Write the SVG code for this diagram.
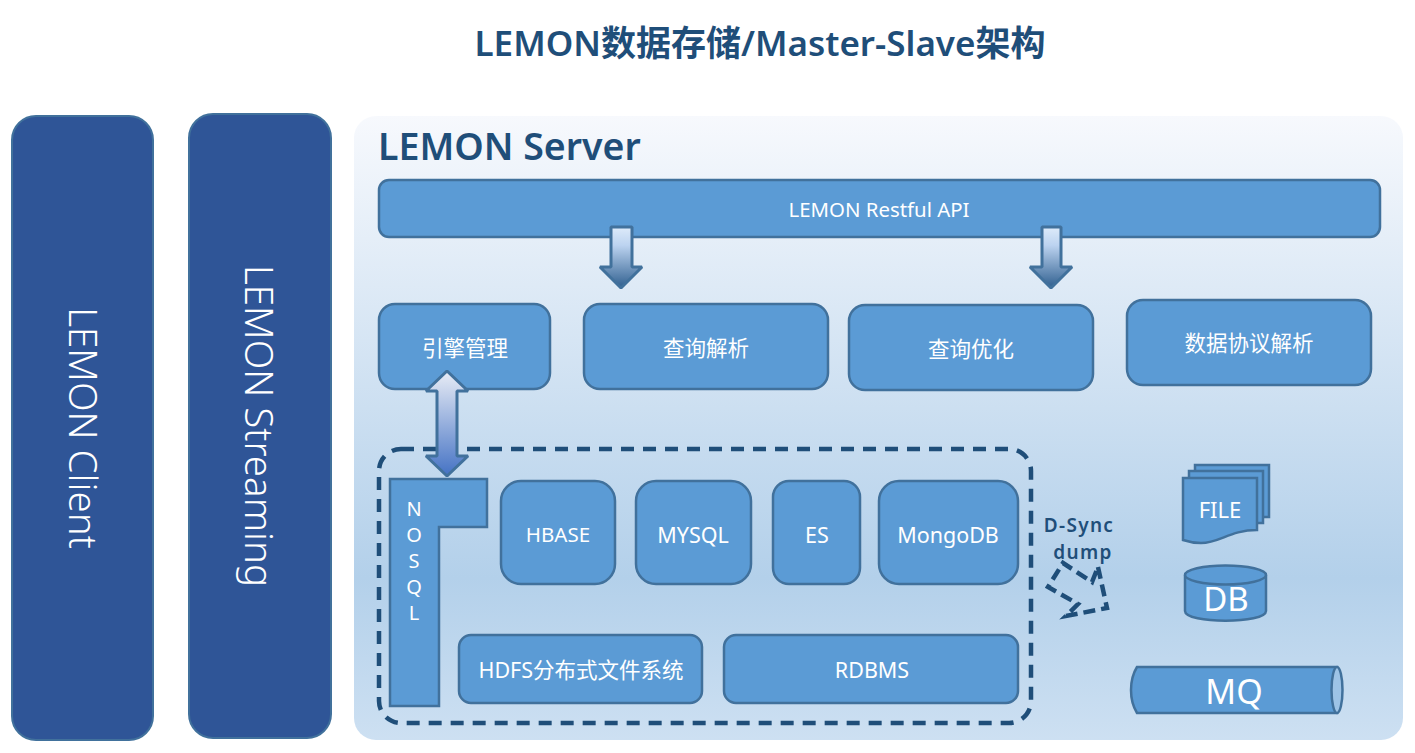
<svg xmlns="http://www.w3.org/2000/svg" width="1415" height="753" viewBox="0 0 1415 753">
<defs>
<linearGradient id="bg" x1="0" y1="0" x2="0" y2="1"><stop offset="0" stop-color="#f7f9fd"/><stop offset="0.74" stop-color="#b3d0ea"/><stop offset="1" stop-color="#cde0f2"/></linearGradient>
<linearGradient id="down" x1="0" y1="0" x2="0" y2="1"><stop offset="0" stop-color="#deebfa"/><stop offset="0.3" stop-color="#bcd3f0"/><stop offset="1" stop-color="#2f5f8f"/></linearGradient>
<linearGradient id="both" x1="0" y1="0" x2="0" y2="1"><stop offset="0" stop-color="#e9edf6"/><stop offset="1" stop-color="#4472c4"/></linearGradient>
</defs>
<style>
text{font-family:"Noto Sans","Noto Sans CJK SC",sans-serif;fill:#fff;text-anchor:middle;dominant-baseline:central}
.n{fill:#5b9bd5;stroke:#41719c;stroke-width:2.500}
.d{fill:#2f5597;stroke:#41719c;stroke-width:2}
.t{font-size:21.500px}
.v{font-size:38.500px;font-weight:300}
.h{fill:#1f4e79;font-weight:600}
.a{stroke:#41719c;stroke-width:3;stroke-linejoin:bevel}
</style>
<text class="h" x="760" y="42" style="font-size:35px">LEMON数据存储/Master-Slave架构</text>
<g id="client"><rect class="d" x="12" y="116" width="141" height="624" rx="24"/><text class="v" transform="translate(84 428) rotate(90)">LEMON Client</text></g>
<g id="streaming"><rect class="d" x="189" y="114" width="142" height="624" rx="24"/><text class="v" transform="translate(260 426) rotate(90)">LEMON Streaming</text></g>
<g id="server"><rect x="354" y="116" width="1049" height="624" rx="22" fill="url(#bg)"/><text class="h" x="378" y="145" style="text-anchor:start;font-size:37.500px">LEMON Server</text></g>
<g id="api"><rect class="n" x="379" y="180" width="1001" height="57" rx="10"/><text x="879" y="209" style="font-size:20.400px">LEMON Restful API</text></g>
<g id="engine"><rect class="n" x="379" y="304" width="171" height="85" rx="16"/><text class="t" x="465" y="347">引擎管理</text></g>
<g id="parse"><rect class="n" x="584" y="304" width="244" height="85" rx="16"/><text class="t" x="706" y="347">查询解析</text></g>
<g id="optimize"><rect class="n" x="849" y="305" width="244" height="85" rx="16"/><text class="t" x="971" y="348">查询优化</text></g>
<g id="protocol"><rect class="n" x="1127" y="300" width="244" height="85" rx="16"/><text class="t" x="1249" y="342">数据协议解析</text></g>
<g id="nosql-group"><rect x="379" y="449" width="652" height="274" rx="22" fill="none" stroke="#1f4e79" stroke-width="4.500" stroke-dasharray="13 9"/></g>
<g id="nosql"><path class="n" d="M390 479H487V527H439V706H390Z"/><text x="414" y="508" style="font-size:20px">N</text><text x="414" y="534" style="font-size:20px">O</text><text x="414" y="560" style="font-size:20px">S</text><text x="414" y="586" style="font-size:20px">Q</text><text x="414" y="612" style="font-size:20px">L</text></g>
<g id="hbase"><rect class="n" x="501" y="481" width="114" height="103" rx="20"/><text class="t" x="558" y="534" style="font-size:20.500px">HBASE</text></g>
<g id="mysql"><rect class="n" x="636" y="481" width="115" height="103" rx="20"/><text class="t" x="693" y="534">MYSQL</text></g>
<g id="es"><rect class="n" x="773" y="481" width="87" height="103" rx="16"/><text class="t" x="817" y="534">ES</text></g>
<g id="mongodb"><rect class="n" x="879" y="481" width="139" height="103" rx="20"/><text class="t" x="948" y="534">MongoDB</text></g>
<g id="hdfs"><rect class="n" x="459" y="635" width="243" height="68" rx="12"/><text class="t" x="581" y="669">HDFS分布式文件系统</text></g>
<g id="rdbms"><rect class="n" x="724" y="635" width="294" height="68" rx="12"/><text class="t" x="872" y="669">RDBMS</text></g>
<g id="file"><rect class="n" x="1195" y="465" width="74" height="52"/><rect class="n" x="1189" y="471" width="74" height="52"/><path class="n" d="M1183 478H1257V530C1230 530 1220 543 1201 543Q1192 543 1183 540Z"/><text class="t" x="1220" y="509" style="font-size:22px">FILE</text></g>
<g id="db"><path class="n" d="M1185 575V611C1185 624 1266 624 1266 611V575"/><ellipse class="n" cx="1225.500" cy="575" rx="40.500" ry="9.500"/><text x="1226" y="598" style="font-size:33px">DB</text></g>
<g id="mq"><path class="n" d="M1137 667H1337V713H1137C1129 700 1129 680 1137 667Z"/><ellipse cx="1337" cy="690" rx="5.500" ry="23" fill="#9dc3e6" stroke="#41719c" stroke-width="2.500"/><text x="1234" y="691" style="font-size:34px">MQ</text></g>
<g id="connectors">
<path class="a" fill="url(#down)" d="M611 227H632V267H642L621 288L600 267H611Z"/>
<path class="a" fill="url(#down)" d="M1042 227H1061V267H1072L1051 288L1030 267H1042Z"/>
<path class="a" fill="url(#both)" d="M447 371L468 391H457V456H468L447 476L426 456H437V391H426Z"/>
<path d="M1098 567L1107 608L1066 616L1078 604L1048 587L1063 563L1092 582Z" fill="none" stroke="#1f4e79" stroke-width="4.500" stroke-dasharray="12 6"/>
</g>
<text class="h" x="1079" y="525" style="font-size:19px;letter-spacing:1.300px">D-Sync</text>
<text class="h" x="1083" y="552" style="font-size:19px;letter-spacing:1.300px">dump</text>
</svg>
